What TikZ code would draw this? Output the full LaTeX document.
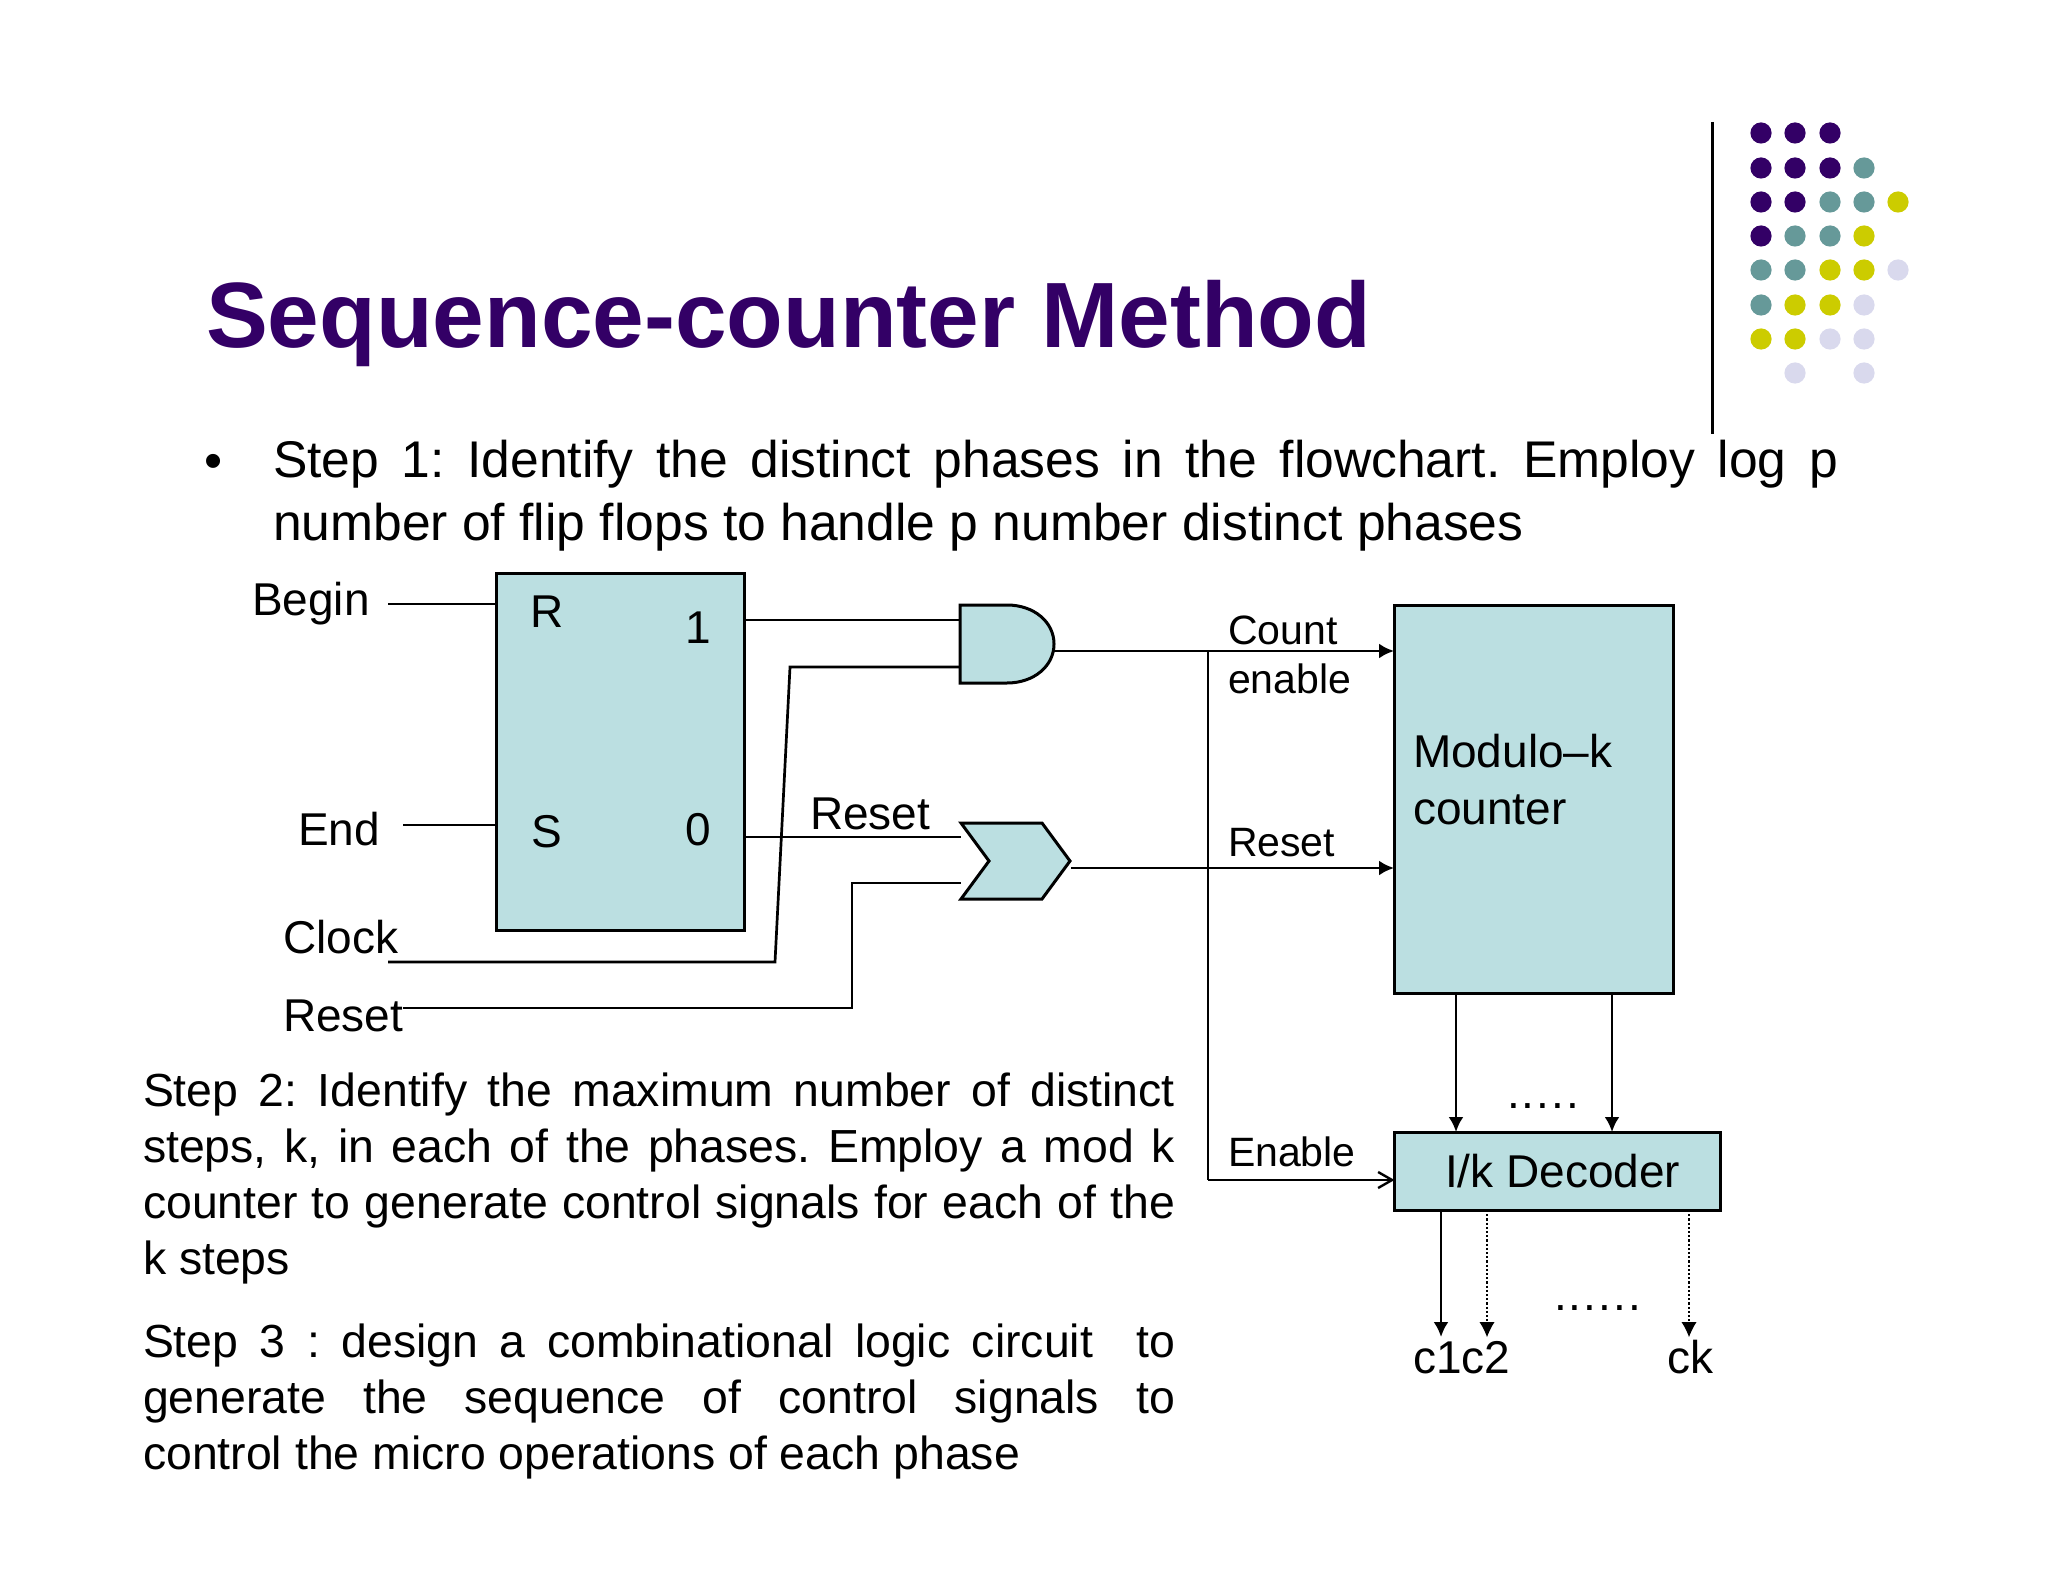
\documentclass[tikz,border=0pt]{standalone}
\usepackage{fontspec}
\setmainfont{Liberation Sans}
\usetikzlibrary{arrows.meta}
\definecolor{titlec}{HTML}{330066}
\definecolor{boxc}{HTML}{BBDFE1}
\definecolor{dotp}{HTML}{330066}
\definecolor{dott}{HTML}{669999}
\definecolor{doty}{HTML}{CCCC00}
\definecolor{dotl}{HTML}{D9D9ED}
\newcommand{\fs}[2]{\fontsize{#1}{#2}\selectfont}
\newcommand{\dotgap}{\kern1.1pt}
\frenchspacing
\tikzset{
  base/.style={anchor=base west,inner sep=0pt,outer sep=0pt,text=black},
  lab/.style={base,font=\fs{23}{27}},
  smalllab/.style={base,font=\fs{20.5}{24}},
  para/.style={base,align=left,font=\fs{23.2}{28}},
  block/.style={draw=black,fill=boxc,line width=1.5pt,inner sep=0pt,outer sep=0pt},
  wire/.style={line width=1.35pt,draw=black},
  arr/.style={wire,-{Latex[length=7.5pt,width=7.5pt]}},
  dotarr/.style={line width=1.1pt,densely dotted,-{Latex[length=7.5pt,width=7.5pt,line width=0pt]}},
  openarr/.style={line width=1.2pt,draw=black,-{Straight Barb[length=7pt,width=8pt]}},
  gate/.style={draw=black,fill=boxc,line width=1.5pt,line join=miter},
  pdot/.style={circle,inner sep=0pt,minimum size=10.6pt,fill=#1},
}
\begin{document}
\begin{tikzpicture}[x=0.5pt,y=-0.5pt]
\useasboundingbox (0,0) rectangle (2048,1582);
% decoration
\draw[line width=1.5pt] (1712,122) coordinate (ruleA) -- (1712,434) coordinate (ruleB);
\foreach \x/\y/\c in {
 1761/133/dotp,1795/133/dotp,1830/133/dotp,
 1761/168/dotp,1795/168/dotp,1830/168/dotp,1864/168/dott,
 1761/202/dotp,1795/202/dotp,1830/202/dott,1864/202/dott,1898/202/doty,
 1761/236/dotp,1795/236/dott,1830/236/dott,1864/236/doty,
 1761/270/dott,1795/270/dott,1830/270/doty,1864/270/doty,1898/270/dotl,
 1761/305/dott,1795/305/doty,1830/305/doty,1864/305/dotl,
 1761/339/doty,1795/339/doty,1830/339/dotl,1864/339/dotl,
 1795/373/dotl,1864/373/dotl}
  \node[pdot=\c] at (\x,\y) {};
% title
\node[base,text=titlec,font=\fs{46.4}{50}\bfseries] (title) at (206,348) {Sequence-counter Method};
% body text
\node[base,font=\fs{25.8}{31.5}] (bullet) at (204,479) {•};
\node[base,align=left,font=\fs{25.8}{31.5}] (step1) at (273,541)
 {\makebox[782.5pt][s]{Step 1: Identify the distinct phases in the flowchart. Employ log p}\\
  number of flip flops to handle p number distinct phases};
\node[para] (step2) at (143,1274)
 {\makebox[516pt][s]{Step 2: Identify the maximum number of distinct}\\
  \makebox[516pt][s]{steps, k, in each of the phases. Employ a mod k}\\
  \makebox[516pt][s]{counter to generate control signals for each of the}\\
  k steps};
\node[para] (step3) at (143,1469)
 {\makebox[516pt][s]{Step 3 : design a combinational logic circuit \ to}\\
  \makebox[516pt][s]{generate the sequence of control signals to}\\
  control the micro operations of each phase};
% blocks
\node[block,minimum width=139.5pt,minimum height=194pt] (mod) at (1533.5,799) {};
\node[block,minimum width=163pt,minimum height=39pt] (dec) at (1557.5,1171) {};
\node[block,minimum width=124pt,minimum height=178.5pt] (ff) at (620,752) {};
% gates
\draw[gate] (960,605) coordinate (andTL) -- (1007,605) .. controls (1034,605) and (1054,622) .. (1054,644) coordinate (andOut)
  .. controls (1054,666) and (1034,683) .. (1007,683) -- (960,683) -- cycle;
\draw[gate] (961,823) coordinate (orTL) -- (1042,823) -- (1070,861) coordinate (orOut) -- (1042,899) -- (961,899) -- (989,861) -- cycle;
% port coordinates
\coordinate (beginS) at (388,604);
\coordinate (endS) at (403,825);
\coordinate (clockS) at (388,962);
\coordinate (clockB) at (775,962);
\coordinate (clockT) at (790,667);
\coordinate (andA) at (960,620);
\coordinate (andB) at (960,667);
\coordinate (orA) at (961,837);
\coordinate (orB) at (961,883);
\coordinate (resetS) at (403,1008);
\coordinate (resetB) at (852,1008);
\coordinate (resetT) at (852,883);
\coordinate (tap) at (1208,651);
\coordinate (tapB) at (1208,1180);
\coordinate (orOutW) at (1071,868);
\coordinate (andOutW) at (1054,651);
% connectors
\draw[wire] (beginS) -- (beginS -| ff.west);
\draw[wire] (endS) -- (endS -| ff.west);
\draw[wire] (andA -| ff.east) -- (andA);
\draw[wire] (orA -| ff.east) -- (orA);
\draw[wire] (clockS) -- (clockB) -- (clockT) -- (andB);
\draw[wire] (resetS) -- (resetB) -- (resetT) -- (orB);
\draw[arr] (andOutW) -- (andOutW -| mod.west);
\draw[arr] (orOutW) -- (orOutW -| mod.west);
\draw[wire] (tap) -- (tapB);
\draw[openarr] (tapB) -- (tapB -| dec.west);
\coordinate (m1) at (1456,995);
\coordinate (m2) at (1612,995);
\draw[arr] (m1) -- (m1 |- dec.north);
\draw[arr] (m2) -- (m2 |- dec.north);
\coordinate (o1) at (1441,1337);
\coordinate (o2) at (1487,1337);
\coordinate (o3) at (1689,1337);
\draw[arr] (o1 |- dec.south) -- (o1);
\draw[dotarr] (o2 |- dec.south) -- (o2);
\draw[dotarr] (o3 |- dec.south) -- (o3);
% labels
\node[lab] (lbegin) at (252,615) {Begin};
\node[lab] (lend) at (298,845) {End};
\node[lab] (lclock) at (283,953) {Clock};
\node[lab] (lreset) at (283,1031) {Reset};
\node[lab] (lR) at (530,627) {R};
\node[lab] (lS) at (531,847) {S};
\node[lab] (l1) at (685,643) {1};
\node[lab] (l0) at (685,845) {0};
\node[lab] (lreset2) at (810,829) {Reset};
\node[smalllab] (lcount) at (1228,644) {Count};
\node[smalllab] (lenable) at (1228,693) {enable};
\node[smalllab] (lreset3) at (1228,856) {Reset};
\node[smalllab] (lenable2) at (1228,1166) {Enable};
\node[lab] (lmod) at (1413,767) {Modulo–k};
\node[lab] (lcounter) at (1413,824) {counter};
\node[lab] (ldec) at (1445,1187) {I/k Decoder};
\node[lab] (ldots1) at (1507,1108) {.\dotgap.\dotgap.\dotgap.\dotgap.};
\node[lab] (ldots2) at (1554,1310) {.\dotgap.\dotgap.\dotgap.\dotgap.\dotgap.};
\node[lab] (lc) at (1413,1373) {c1c2};
\node[lab] (lck) at (1667,1373) {ck};
\end{tikzpicture}
\end{document}
